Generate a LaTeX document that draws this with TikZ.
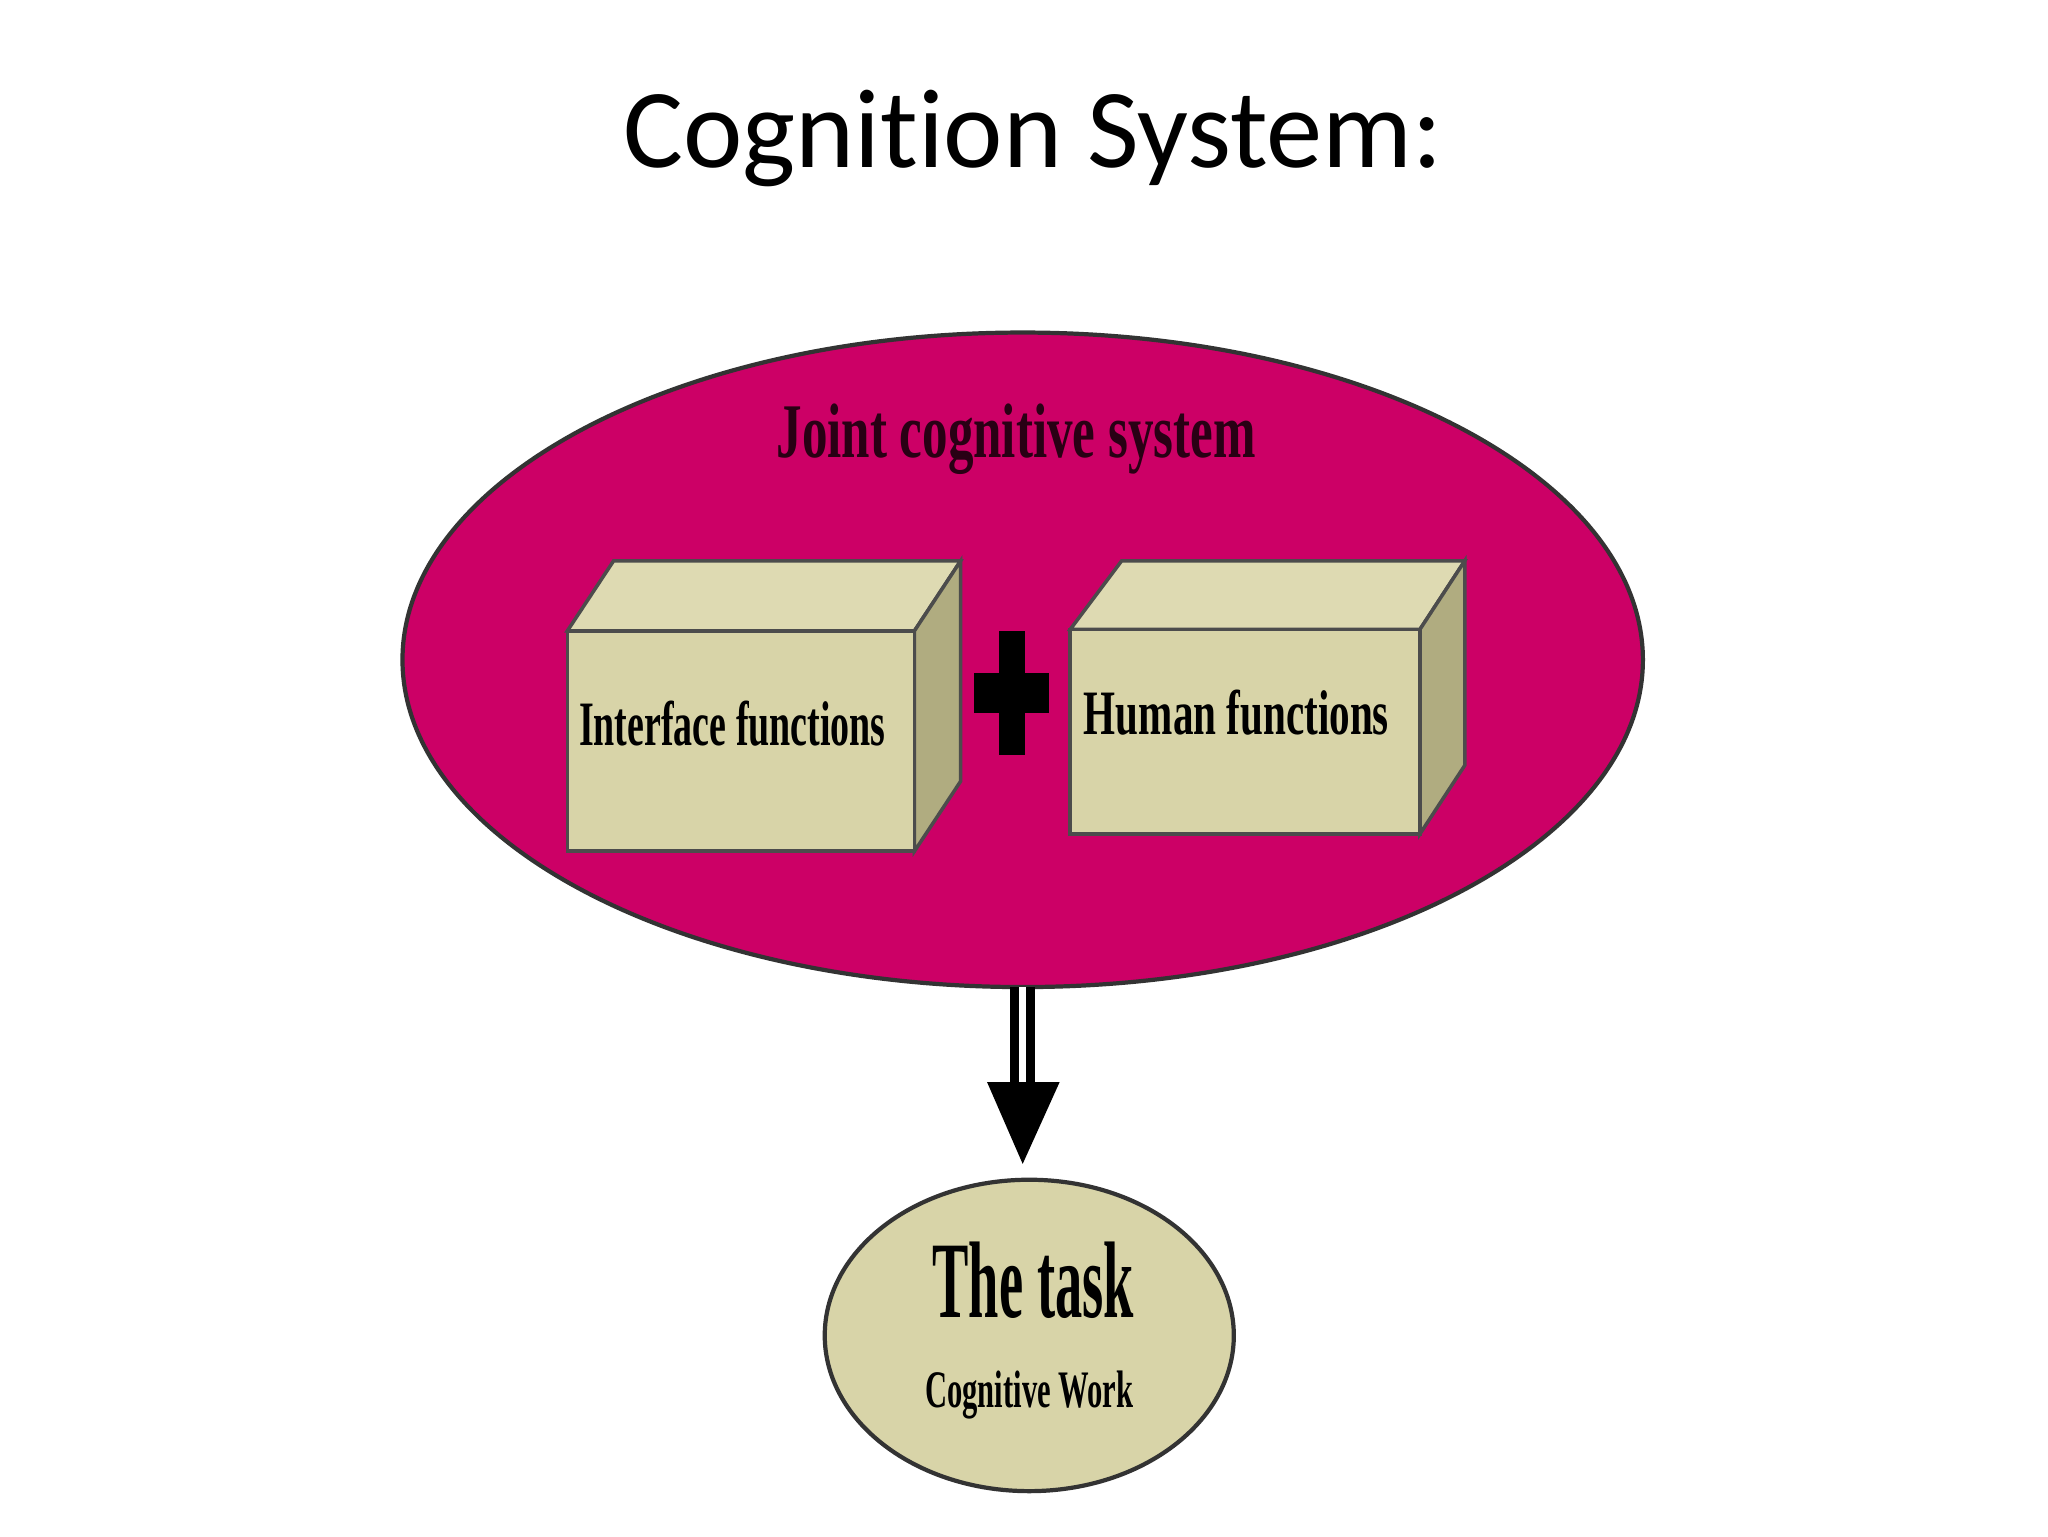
\documentclass[tikz,border=0pt]{standalone}
\usepackage{fontspec}
\setmainfont{Liberation Serif}
\newfontfamily\titlefont[Ligatures=NoCommon]{Carlito}
\definecolor{mag}{RGB}{204,0,102}
\definecolor{beige}{RGB}{216,212,168}
\definecolor{beigeside}{RGB}{176,172,128}
\definecolor{beigetop}{RGB}{222,218,178}
\begin{document}
\begin{tikzpicture}[x=0.013196cm,y=-0.013196cm,
  face/.style={draw=black!70,line width=1pt},
  lbl/.style={inner sep=0pt,font=\bfseries}]
\useasboundingbox (0,0) rectangle (1552,1164);
\fill[white] (0,0) rectangle (1552,1164);
\node[inner sep=0pt,font=\titlefont\fontsize{32}{38}\selectfont] (title) at (783,105) {Cognition System:};
\fill[mag,draw=black!80,line width=1.2pt] (775,500) ellipse [x radius=470,y radius=248];
\node[lbl,xscale=0.66,text=black!80!mag,font=\bfseries\fontsize{22}{26}\selectfont] (jcs) at (770,333) {Joint cognitive system};
% box 1
\fill[beigetop,face] (430,478) -- (465,425) -- (728,425) -- (693,478) -- cycle;
\fill[beigeside,face] (693,478) -- (728,425) -- (728,592) -- (693,645) -- cycle;
\fill[beige,face] (430,478) rectangle (693,645);
\node[lbl,xscale=0.6,font=\bfseries\fontsize{18}{22}\selectfont] (if) at (555,548) {Interface functions};
% box 2
\fill[beigetop,face] (811,477) -- (850,425) -- (1110,425) -- (1076,477) -- cycle;
\fill[beigeside,face] (1076,477) -- (1110,425) -- (1110,580) -- (1076,632) -- cycle;
\fill[beige,face] (811,477) rectangle (1076,632);
\node[lbl,xscale=0.65,font=\bfseries\fontsize{18}{22}\selectfont] (hf) at (937,540) {Human functions};
% plus
\fill[black] (757,478) rectangle (777,572);
\fill[black] (738,510) rectangle (795,540);
% small ellipse
\fill[beige,draw=black!80,line width=1.2pt] (780,1012) ellipse [x radius=155,y radius=118];
\node[lbl,xscale=0.5,font=\bfseries\fontsize{31}{34}\selectfont] (task) at (783,970) {The task};
\node[lbl,xscale=0.58,font=\bfseries\fontsize{15}{18}\selectfont] (cw) at (780,1057) {Cognitive Work};
% arrow
\coordinate (a1) at (775,748);
\coordinate (a2) at (775,822);
\draw[black,line width=2.5pt,double=white,double distance=2pt] (a1) -- (a2);
\fill[black] (748,820) -- (803,820) -- (775,882) -- cycle;
\end{tikzpicture}
\end{document}
